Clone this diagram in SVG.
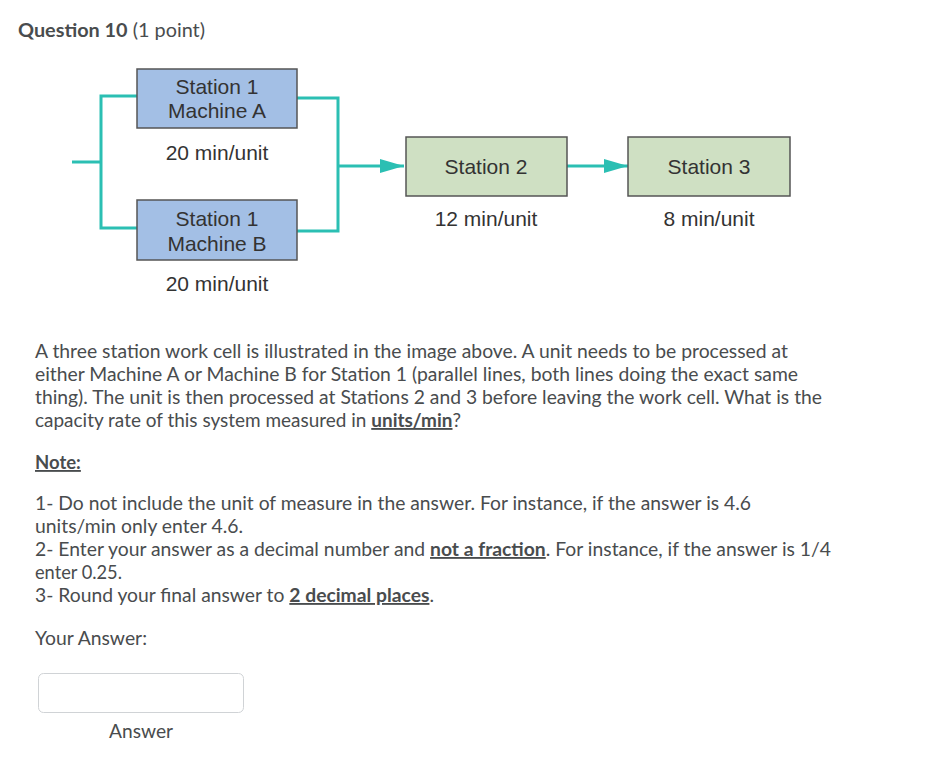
<svg xmlns="http://www.w3.org/2000/svg" width="947" height="760" viewBox="0 0 947 760">
<style>
.t{font-family:Lato,"Open Sans",sans-serif;font-size:18.5px;fill:#494c4e}
.d{font-family:"Liberation Sans",Arial,sans-serif;font-size:21px;fill:#333;text-anchor:middle}
.b{fill:#a3bfe5;stroke:#555;stroke-width:1.5}
.g{fill:#cfe0c3;stroke:#555;stroke-width:1.5}
.c{fill:none;stroke:#2bbfb3;stroke-width:3}
.u{text-decoration:underline;font-weight:bold}
</style>
<defs>
<marker id="ah" viewBox="0 0 10 10" markerWidth="24" markerHeight="14" refX="10" refY="5" orient="auto" markerUnits="userSpaceOnUse" preserveAspectRatio="none"><path d="M0,0L10,5L0,10z" fill="#2bbfb3"/></marker></defs>
<rect width="947" height="760" fill="#fff"/>
<text x="18" y="37" class="t" style="font-size:19.5px" textLength="187" lengthAdjust="spacingAndGlyphs"><tspan font-weight="bold">Question 10</tspan> (1 point)</text>
<g id="connectors">
<path class="c" d="M72,162H101M137,96H101V228H137"/>
<path class="c" d="M297,98H338V231H297"/>
<path class="c" d="M338,166H404" marker-end="url(#ah)"/>
<path class="c" d="M567,166H628" marker-end="url(#ah)"/>
</g>
<g id="machineA"><rect class="b" x="137" y="69" width="160" height="59"/><text class="d" x="217" y="94">Station 1</text><text class="d" x="217" y="118">Machine A</text><text class="d" x="217" y="160">20 min/unit</text></g>
<g id="machineB"><rect class="b" x="137" y="200" width="160" height="60"/><text class="d" x="217" y="226">Station 1</text><text class="d" x="217" y="251">Machine B</text><text class="d" x="217" y="291">20 min/unit</text></g>
<g id="station2"><rect class="g" x="406" y="137" width="161" height="59"/><text class="d" x="486" y="174">Station 2</text><text class="d" x="486" y="226">12 min/unit</text></g>
<g id="station3"><rect class="g" x="628" y="137" width="162" height="59"/><text class="d" x="709" y="174">Station 3</text><text class="d" x="709" y="226">8 min/unit</text></g>
<text class="t" x="35" y="358" textLength="753" lengthAdjust="spacingAndGlyphs">A three station work cell is illustrated in the image above. A unit needs to be processed at</text>
<text class="t" x="35" y="381" textLength="763" lengthAdjust="spacingAndGlyphs">either Machine A or Machine B for Station 1 (parallel lines, both lines doing the exact same</text>
<text class="t" x="35" y="404" textLength="787" lengthAdjust="spacingAndGlyphs">thing). The unit is then processed at Stations 2 and 3 before leaving the work cell. What is the</text>
<text class="t" x="35" y="427" textLength="426" lengthAdjust="spacingAndGlyphs">capacity rate of this system measured in <tspan class="u">units/min</tspan>?</text>
<text class="t" x="35" y="469"><tspan class="u">Note:</tspan></text>
<text class="t" x="35" y="510" textLength="716" lengthAdjust="spacingAndGlyphs">1- Do not include the unit of measure in the answer. For instance, if the answer is 4.6</text>
<text class="t" x="35" y="533" textLength="208" lengthAdjust="spacingAndGlyphs">units/min only enter 4.6.</text>
<text class="t" x="35" y="556" textLength="796" lengthAdjust="spacingAndGlyphs">2- Enter your answer as a decimal number and <tspan class="u">not a fraction</tspan>. For instance, if the answer is 1/4</text>
<text class="t" x="35" y="579" textLength="87" lengthAdjust="spacingAndGlyphs">enter 0.25.</text>
<text class="t" x="35" y="602" textLength="399" lengthAdjust="spacingAndGlyphs">3- Round your final answer to <tspan class="u">2 decimal places</tspan>.</text>
<text class="t" x="35" y="645" textLength="112" lengthAdjust="spacingAndGlyphs">Your Answer:</text>
<rect x="38.5" y="673.5" width="205" height="39" rx="5" fill="#fff" stroke="#d0d3d6"/>
<text class="t" x="109" y="738" textLength="64" lengthAdjust="spacingAndGlyphs">Answer</text>
</svg>
